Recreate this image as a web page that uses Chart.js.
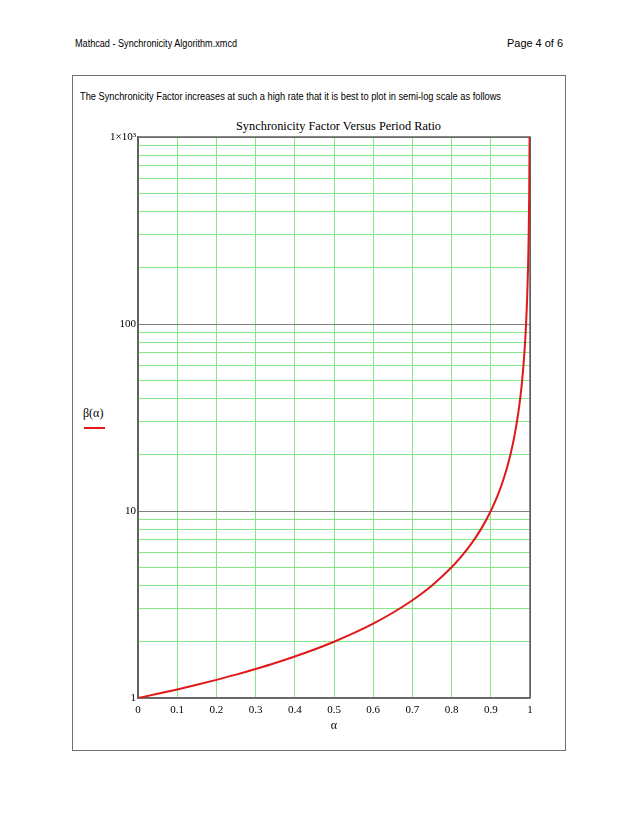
<!DOCTYPE html>
<html>
<head>
<meta charset="utf-8">
<script src="https://cdn.jsdelivr.net/npm/chart.js@4.4.1/dist/chart.umd.min.js"></script>
<style>
  html, body { margin: 0; padding: 0; background: #fff; }
  body { width: 638px; height: 826px; position: relative; overflow: hidden; }
  #c { position: absolute; left: 0; top: 0; }
  .t { position: absolute; white-space: nowrap; transform-origin: 0 50%; line-height: 1; color: #000; }
  .sans { font-family: "Liberation Sans", Arial, sans-serif; }
  .serif { font-family: "Liberation Serif", "Times New Roman", serif; }
  #frame { position: absolute; left: 72px; top: 75px; width: 494px; height: 676px; border: 1.5px solid #707070; box-sizing: border-box; }
  #legline { position: absolute; left: 84px; top: 427px; width: 21px; height: 2px; background: #e01818; }
</style>
</head>
<body>
<div id="frame"></div>
<div class="t sans" id="hdrL" style="left:75px; top:39px; font-size:10px;">Mathcad - Synchronicity Algorithm.xmcd</div>
<div class="t sans" id="hdrR" style="left:507px; top:39px; font-size:10px;">Page 4 of 6</div>
<div class="t sans" id="intro" style="left:80px; top:91px; font-size:11.5px;">The Synchronicity Factor increases at such a high rate that it is best to plot in semi-log scale as follows</div>
<div class="t serif" id="ctitle" style="left:236px; top:120px; font-size:12px;">Synchronicity Factor Versus Period Ratio</div>
<div class="t serif" id="ylab" style="left:83px; top:407px; font-size:12px; color:#000;">β(α)</div>
<div id="legline"></div>
<canvas id="c" width="638" height="826"></canvas>
<script>
// ---- data ----
const alphaValues = [0, 0.05, 0.1, 0.15, 0.2, 0.25, 0.3, 0.35, 0.4, 0.45, 0.5, 0.55, 0.6, 0.65, 0.7, 0.75, 0.8, 0.825, 0.85, 0.875, 0.9, 0.91, 0.92, 0.93, 0.94, 0.95, 0.96, 0.97, 0.975, 0.98, 0.985, 0.99, 0.9925, 0.995, 0.9965, 0.998, 0.999];
const betaValues  = [1, 1.053, 1.111, 1.176, 1.25, 1.333, 1.429, 1.538, 1.667, 1.818, 2, 2.222, 2.5, 2.857, 3.333, 4, 5, 5.714, 6.667, 8, 10, 11.11, 12.5, 14.29, 16.67, 20, 25, 33.33, 40, 50, 66.67, 100, 133.3, 200, 285.7, 500, 1000];
const yGridValues = [1,2,3,4,5,6,7,8,9,10,20,30,40,50,60,70,80,90,100,200,300,400,500,600,700,800,900,1000];
const yTickLabels = {1: "1", 10: "10", 100: "100", 1000: "1×10³"};
const xTickLabels = ["0","0.1","0.2","0.3","0.4","0.5","0.6","0.7","0.8","0.9","1"];
const xTitle = "α";

// fit html texts to their measured widths in the reference
function fit(id, w) {
  const el = document.getElementById(id);
  const r = el.getBoundingClientRect().width;
  el.style.transform = 'scaleX(' + (w / r) + ')';
}
fit('hdrL', 162); fit('hdrR', 56); fit('intro', 421); fit('ctitle', 205);

const GREEN = '#86e886';
const GRAY = '#808080';
const AXIS = '#606060';

const border = {
  id: 'rightTopBorder',
  beforeDatasetsDraw(chart) {
    const a = chart.chartArea, ctx = chart.ctx;
    ctx.save(); ctx.strokeStyle = AXIS; ctx.lineWidth = 1.5;
    ctx.beginPath(); ctx.moveTo(a.left, a.top); ctx.lineTo(a.right, a.top); ctx.lineTo(a.right, a.bottom); ctx.stroke();
    ctx.restore();
  }
};

new Chart(document.getElementById('c'), {
  type: 'line',
  data: {
    datasets: [{
      data: alphaValues.map((a, i) => ({x: a, y: betaValues[i]})),
      borderColor: '#e01818',
      borderWidth: 2,
      pointRadius: 0,
      cubicInterpolationMode: 'monotone',
      fill: false
    }]
  },
  plugins: [border],
  options: {
    responsive: false,
    animation: false,
    devicePixelRatio: 1,
    layout: { padding: { left: 0, top: 137, right: 108, bottom: 88 } },
    plugins: { legend: { display: false }, tooltip: { enabled: false }, title: { display: false } },
    scales: {
      x: {
        type: 'linear',
        min: 0, max: 1,
        afterBuildTicks(scale) {
          scale.ticks = xTickLabels.map((l, i) => ({ value: i / 10 }));
        },
        afterFit(scale) { scale.height = 40; },
        ticks: {
          autoSkip: false, maxRotation: 0, padding: 6, color: '#000',
          font: { family: 'Liberation Serif', size: 11 },
          callback: (v, i) => xTickLabels[i]
        },
        grid: {
          drawTicks: false,
          color: ctx => (ctx.tick && (ctx.tick.value === 0 || ctx.tick.value === 1)) ? AXIS : GREEN,
          lineWidth: 1
        },
        border: { display: true, color: AXIS, width: 1.5 },
        title: { display: true, text: xTitle, color: '#000', font: { family: 'Liberation Serif', size: 12 }, padding: { top: 2, bottom: 5 } }
      },
      y: {
        type: 'logarithmic',
        min: 1, max: 1000,
        afterBuildTicks(scale) {
          scale.ticks = yGridValues.map(v => ({ value: v }));
        },
        afterFit(scale) { scale.width = 138; },
        ticks: {
          autoSkip: false, padding: 2, color: '#000',
          font: { family: 'Liberation Serif', size: 11 },
          callback: v => yTickLabels[v] !== undefined ? yTickLabels[v] : ''
        },
        grid: {
          drawTicks: false,
          color: ctx => {
            const v = ctx.tick ? ctx.tick.value : 0;
            return (v === 1 || v === 10 || v === 100 || v === 1000) ? GRAY : GREEN;
          },
          lineWidth: 1
        },
        border: { display: true, color: AXIS, width: 1.5 }
      }
    }
  }
});
</script>
</body>
</html>
